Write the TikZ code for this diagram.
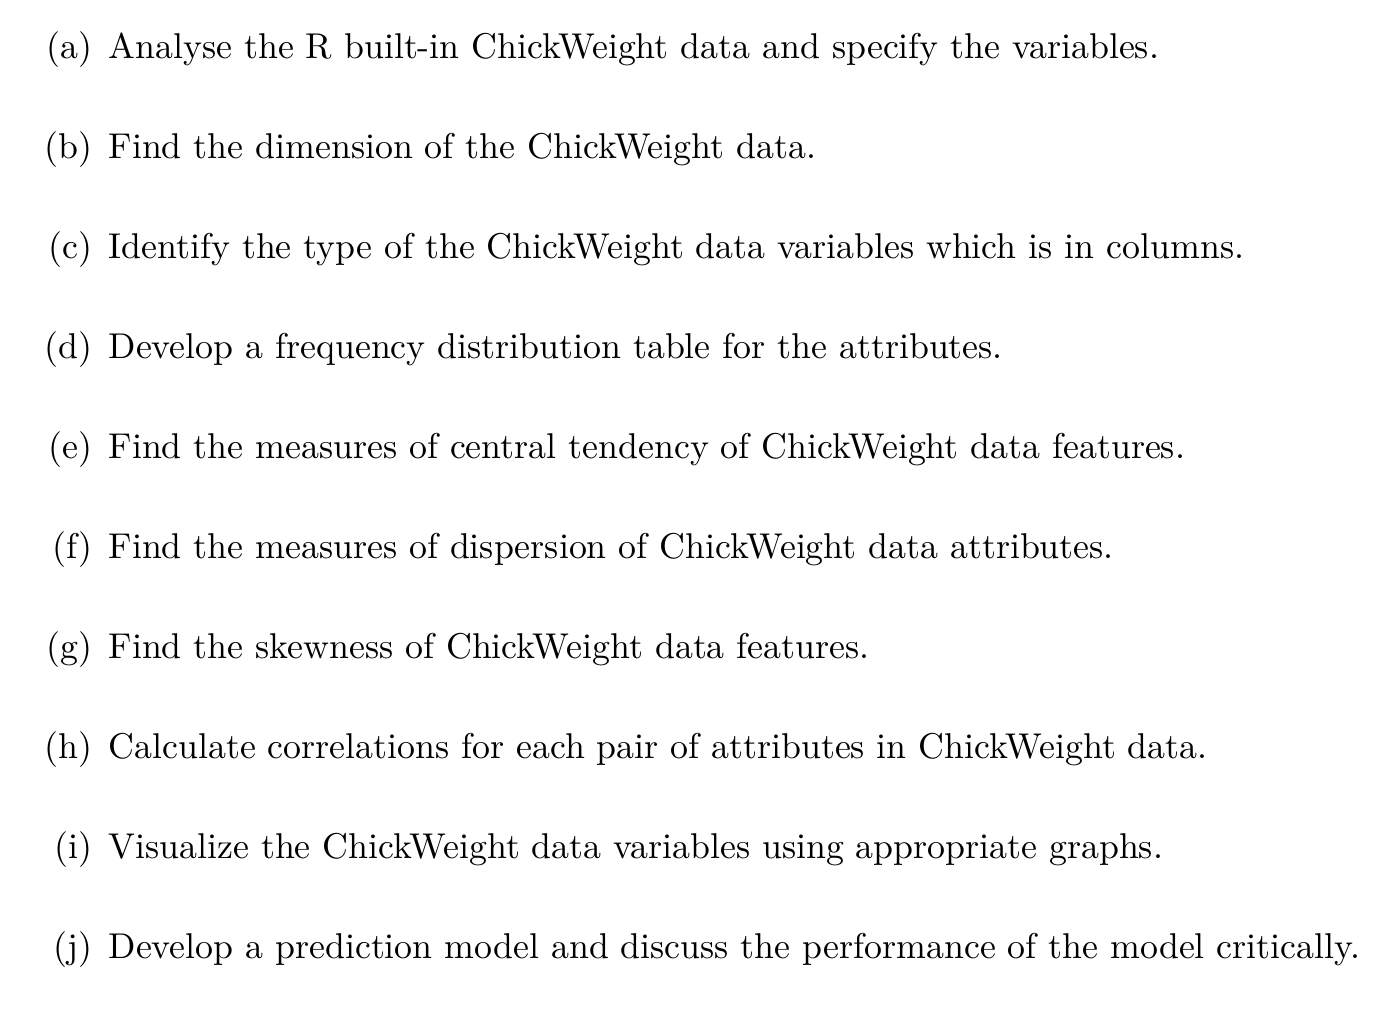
\documentclass[tikz,border=0pt]{standalone}
\begin{document}
\begin{tikzpicture}[x=0.3pt,y=-0.3pt,
  lbl/.style={anchor=base east,inner sep=0pt,font=\fontsize{10.75}{12}\selectfont},
  itm/.style={anchor=base west,inner sep=0pt,font=\fontsize{10.75}{12}\selectfont}]
\useasboundingbox (0,0) rectangle (1396,1012);
\foreach \l/\t [count=\i from 0] in {
 a/{Analyse the R built-in ChickWeight data and specify the variables.},
 b/{Find the dimension of the ChickWeight data.},
 c/{Identify the type of the ChickWeight data variables which is in columns.},
 d/{Develop a frequency distribution table for the attributes.},
 e/{Find the measures of central tendency of ChickWeight data features.},
 f/{Find the measures of dispersion of ChickWeight data attributes.},
 g/{Find the skewness of ChickWeight data features.},
 h/{Calculate correlations for each pair of attributes in ChickWeight data.},
 i/{Visualize the ChickWeight data variables using appropriate graphs.},
 j/{Develop a prediction model and discuss the performance of the model critically.}}
{
 \node[lbl] (l\l) at (93,{58+100*\i}) {(\l)};
 \node[itm] (t\l) at (108,{58+100*\i}) {\t};
}
\end{tikzpicture}
\end{document}
